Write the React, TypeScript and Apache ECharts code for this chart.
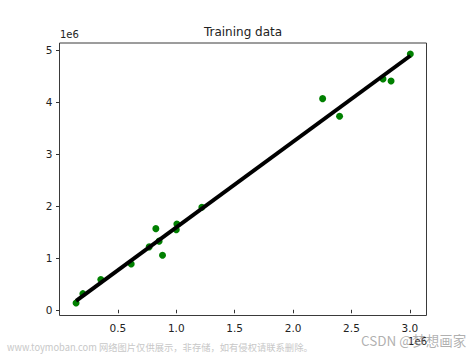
import React, { useEffect, useRef } from "react";
import * as echarts from "echarts";

// Training data (raw values; axes shown with a 1e6 offset)
const xTrain = [142000, 200000, 354000, 614000, 768000, 825000, 853000, 882000, 1000000, 1005000, 1219000, 2253000, 2398000, 2770000, 2839000, 3004000];
const yTrain = [130000, 310000, 580000, 880000, 1210000, 1560000, 1320000, 1050000, 1540000, 1650000, 1970000, 4060000, 3720000, 4440000, 4400000, 4920000];
// Fitted line endpoints
const lineX = [142000, 3004000];
const lineY = [170000, 4885000];
const xTicks = [500000, 1000000, 1500000, 2000000, 2500000, 3000000];
const yTicks = [0, 1000000, 2000000, 3000000, 4000000, 5000000];

const FONT = "DejaVu Sans";

export default function App() {
  const ref = useRef<HTMLDivElement>(null);
  useEffect(() => {
    if (!ref.current) return;
    const chart = echarts.init(ref.current, null, { renderer: "svg" });
    const fmtX = (v: number) => (v / 1e6).toFixed(1);
    const fmtY = (v: number) => String(Math.round(v / 1e6));
    chart.setOption({
      animation: false,
      backgroundColor: "#ffffff",
      grid: {
        left: 59.5,
        top: 43,
        right: 47.5,
        bottom: 39.5,
        show: true,
        borderColor: "#3a3a3a",
        borderWidth: 1,
        backgroundColor: "transparent",
        containLabel: false,
      },
      xAxis: {
        type: "value",
        min: 0,
        max: 3142500,
        splitLine: { show: false },
        axisLine: { show: false },
        axisTick: { show: true, length: 3.5, lineStyle: { color: "#333" }, customValues: xTicks },
        axisLabel: {
          customValues: xTicks,
          formatter: fmtX,
          margin: 7,
          fontFamily: FONT,
          fontSize: 10.5,
          color: "#222",
        },
      },
      yAxis: {
        type: "value",
        min: -110000,
        max: 5130000,
        splitLine: { show: false },
        axisLine: { show: false },
        axisTick: { show: true, length: 3.5, lineStyle: { color: "#333" }, customValues: yTicks },
        axisLabel: {
          customValues: yTicks,
          formatter: fmtY,
          margin: 7,
          fontFamily: FONT,
          fontSize: 10.5,
          color: "#222",
        },
      },
      series: [
        {
          type: "scatter",
          data: xTrain.map((x, i) => [x, yTrain[i]]),
          symbol: "circle",
          symbolSize: 7,
          itemStyle: { color: "#008000", opacity: 1 },
          z: 2,
        },
        {
          type: "line",
          data: lineX.map((x, i) => [x, lineY[i]]),
          showSymbol: false,
          symbol: "none",
          lineStyle: { color: "#000", width: 4 },
          z: 3,
        },
      ],
      graphic: [
        {
          type: "text",
          x: 243,
          y: 32,
          style: {
            text: "Training data",
            fontFamily: FONT,
            fontSize: 12,
            fill: "#222",
            align: "center",
            verticalAlign: "middle",
          },
        },
        {
          type: "text",
          left: 60,
          top: 29,
          style: { text: "1e6", fontFamily: FONT, fontSize: 10, fill: "#222" },
        },
        {
          type: "text",
          right: 47,
          top: 336,
          style: { text: "1e6", fontFamily: FONT, fontSize: 10, fill: "#222" },
        },
        {
          type: "text",
          left: 7,
          top: 342,
          style: {
            text: "www.toymoban.com 网络图片仅供展示，非存储，如有侵权请联系删除。",
            fontFamily: "Noto Sans CJK SC",
            fontSize: 9.3,
            fill: "#c8c8c8",
          },
        },
        {
          type: "text",
          left: 361,
          top: 333,
          style: {
            text: "CSDN @梦想画家",
            fontFamily: "Noto Sans CJK SC",
            fontSize: 13.5,
            fill: "rgba(150,150,150,0.75)",
          },
        },
      ],
    });
    return () => chart.dispose();
  }, []);
  return (
    <div
      ref={ref}
      style={{ position: "fixed", left: 0, top: 0, width: 474, height: 355 }}
    />
  );
}
